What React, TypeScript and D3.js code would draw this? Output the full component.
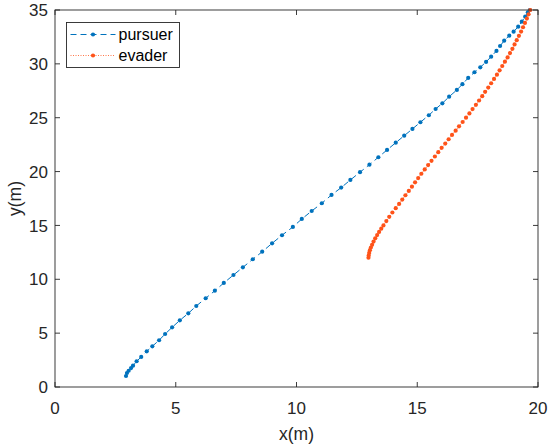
import * as d3 from "d3"

// pursuer track (x, y in metres)
const pursuerX = [
  2.94, 2.98, 3.05, 3.15, 3.23, 3.38, 3.57, 3.8, 4.03, 4.31, 4.56, 4.85, 5.17, 5.52, 5.85,
  6.24, 6.62, 6.99, 7.39, 7.78, 8.19, 8.58, 8.99, 9.4, 9.85, 10.22, 10.63, 11.05, 11.45, 11.85,
  12.23, 12.63, 13.02, 13.39, 13.75, 14.11, 14.46, 14.8, 15.13, 15.48, 15.76, 16.04, 16.32, 16.64, 16.87,
  17.11, 17.37, 17.61, 17.85, 18.06, 18.28, 18.43, 18.6, 18.81, 18.99, 19.18, 19.33, 19.47, 19.58, 19.66,
]
const pursuerY = [
  1.02, 1.3, 1.51, 1.76, 1.98, 2.39, 2.79, 3.31, 3.78, 4.34, 4.92, 5.54, 6.19, 6.84, 7.52,
  8.24, 8.94, 9.66, 10.4, 11.11, 11.86, 12.56, 13.34, 14.09, 14.86, 15.6, 16.34, 17.06, 17.83, 18.51,
  19.22, 19.94, 20.64, 21.33, 22.01, 22.68, 23.33, 23.96, 24.58, 25.23, 25.81, 26.34, 26.95, 27.58, 28.11,
  28.69, 29.22, 29.68, 30.18, 30.67, 31.2, 31.66, 32.15, 32.62, 32.99, 33.45, 33.92, 34.38, 34.79, 35.0,
]

// evader track
const evaderX = [
  12.98, 12.99, 13.01, 13.04, 13.08, 13.13, 13.19, 13.26, 13.34, 13.42, 13.51,
  13.6, 13.72, 13.84, 13.97, 14.11, 14.25, 14.38, 14.51, 14.65, 14.78, 14.91, 15.04, 15.17,
  15.31, 15.45, 15.59, 15.73, 15.87, 16.01, 16.16, 16.3, 16.44, 16.59, 16.73, 16.88, 17.02,
  17.16, 17.29, 17.43, 17.56, 17.69, 17.81, 17.94, 18.06, 18.18, 18.3, 18.41, 18.52, 18.63,
  18.74, 18.84, 18.94, 19.03, 19.12, 19.21, 19.3, 19.38, 19.46, 19.54, 19.61, 19.68,
]
const evaderY = [
  12.0, 12.2, 12.45, 12.7, 12.95, 13.2, 13.5, 13.8, 14.1, 14.4, 14.7,
  15.0, 15.4, 15.8, 16.2, 16.6, 17.0, 17.4, 17.8, 18.2, 18.6, 19.0, 19.4, 19.8,
  20.2, 20.6, 21.0, 21.4, 21.8, 22.2, 22.6, 23.0, 23.4, 23.8, 24.2, 24.6, 25.0,
  25.4, 25.8, 26.2, 26.6, 27.0, 27.4, 27.8, 28.2, 28.6, 29.0, 29.4, 29.8, 30.2,
  30.6, 31.0, 31.4, 31.8, 32.2, 32.6, 33.0, 33.4, 33.8, 34.2, 34.6, 35.0,
]

const xTicks = [0, 5, 10, 15, 20]
const yTicks = [0, 5, 10, 15, 20, 25, 30, 35]
const seriesNames = ["pursuer", "evader"]

const W = 550
const H = 446
const plot = { left: 55, right: 538, top: 10, bottom: 387 }
const BLUE = "#0072BD"
const ORANGE = "#FF5319"
const AXIS = "#262626"
const FONT = "'Liberation Sans', Arial, Helvetica, sans-serif"

export default function App() {
  const x = d3.scaleLinear().domain([0, 20]).range([plot.left, plot.right])
  const y = d3.scaleLinear().domain([0, 35]).range([plot.bottom, plot.top])

  const pursuer = pursuerX.map((v, i) => [v, pursuerY[i]] as [number, number])
  const evader = evaderX.map((v, i) => [v, evaderY[i]] as [number, number])

  const line = d3
    .line<[number, number]>()
    .x((d) => x(d[0]))
    .y((d) => y(d[1]))

  const tick = 5

  return (
    <svg
      width={W}
      height={H}
      style={{ position: "absolute", left: 0, top: 0, background: "#fff" }}
      fontFamily={FONT}
    >
      <rect x={0} y={0} width={W} height={H} fill="#fff" />

      {/* series */}
      <path d={line(pursuer) ?? ""} fill="none" stroke={BLUE} strokeWidth={1} strokeDasharray="6,4" />
      {pursuer.map((d, i) => (
        <circle key={"p" + i} cx={x(d[0])} cy={y(d[1])} r={2.1} fill={BLUE} />
      ))}
      <path d={line(evader) ?? ""} fill="none" stroke={ORANGE} strokeWidth={0.8} strokeDasharray="1,1.5" />
      {evader.map((d, i) => (
        <circle key={"e" + i} cx={x(d[0])} cy={y(d[1])} r={2.1} fill={ORANGE} />
      ))}

      {/* axes box */}
      <rect
        x={plot.left}
        y={plot.top}
        width={plot.right - plot.left}
        height={plot.bottom - plot.top}
        fill="none"
        stroke={AXIS}
        strokeWidth={0.9}
      />
      {xTicks.map((t) => (
        <g key={"xt" + t}>
          <line x1={x(t)} x2={x(t)} y1={plot.bottom} y2={plot.bottom - tick} stroke={AXIS} strokeWidth={0.9} />
          <line x1={x(t)} x2={x(t)} y1={plot.top} y2={plot.top + tick} stroke={AXIS} strokeWidth={0.9} />
          <text x={x(t)} y={plot.bottom + 27} textAnchor="middle" fontSize={17} fill={AXIS}>
            {t}
          </text>
        </g>
      ))}
      {yTicks.map((t) => (
        <g key={"yt" + t}>
          <line x1={plot.left} x2={plot.left + tick} y1={y(t)} y2={y(t)} stroke={AXIS} strokeWidth={0.9} />
          <line x1={plot.right} x2={plot.right - tick} y1={y(t)} y2={y(t)} stroke={AXIS} strokeWidth={0.9} />
          <text x={plot.left - 7} y={y(t)} dy="0.36em" textAnchor="end" fontSize={17} fill={AXIS}>
            {t}
          </text>
        </g>
      ))}

      <text x={(plot.left + plot.right) / 2} y={440} textAnchor="middle" fontSize={17.5} fill={AXIS}>
        x(m)
      </text>
      <text
        transform={`translate(21, ${(plot.top + plot.bottom) / 2}) rotate(-90)`}
        textAnchor="middle"
        fontSize={17.5}
        fill={AXIS}
      >
        y(m)
      </text>

      {/* legend */}
      <g transform="translate(66.5, 22.5)">
        <rect width={113} height={45} fill="#fff" stroke={AXIS} strokeWidth={0.9} />
        {seriesNames.map((name, i) => {
          const color = i === 0 ? BLUE : ORANGE
          const ly = 12 + i * 21
          return (
            <g key={name}>
              <line
                x1={4}
                x2={49}
                y1={ly}
                y2={ly}
                stroke={color}
                strokeWidth={i === 0 ? 1 : 0.8}
                strokeDasharray={i === 0 ? "6,4" : "1,1.5"}
              />
              <circle cx={26.5} cy={ly} r={2.1} fill={color} />
              <text x={52} y={ly} dy="0.36em" fontSize={16} fill="#000">
                {name}
              </text>
            </g>
          )
        })}
      </g>
    </svg>
  )
}
